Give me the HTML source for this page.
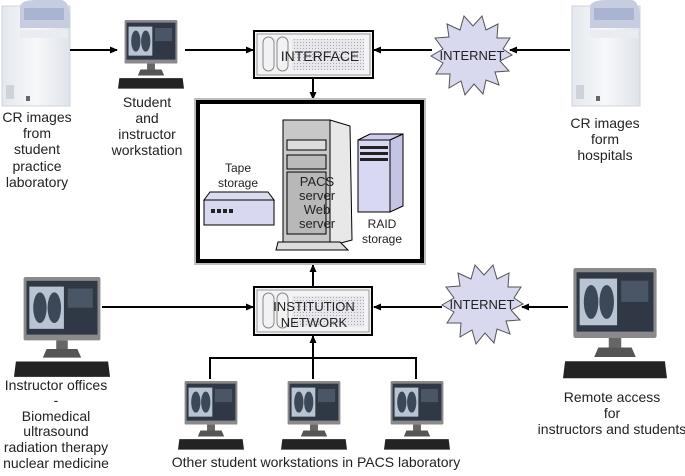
<!DOCTYPE html>
<html><head><meta charset="utf-8"><style>
html,body{margin:0;padding:0;background:#fff;}
svg{display:block;font-family:"Liberation Sans",Arial,sans-serif;}
</style></head><body>
<svg width="685" height="476" viewBox="0 0 685 476" xmlns="http://www.w3.org/2000/svg">
<defs>
<marker id="ah" markerWidth="8" markerHeight="8" refX="7" refY="4" orient="auto" markerUnits="userSpaceOnUse">
<path d="M0,0.5 L8,4 L0,7.5 Z" fill="#000"/></marker>
<pattern id="grid" width="3" height="3" patternUnits="userSpaceOnUse">
<rect width="3" height="3" fill="#e8e8ec"/><rect width="1" height="1" fill="#a8a8b0"/></pattern>
<linearGradient id="crg" x1="0" x2="1"><stop offset="0" stop-color="#e4e8ee"/><stop offset="0.5" stop-color="#f7f8fa"/><stop offset="1" stop-color="#dfe3ea"/></linearGradient>
<g id="mon">
<rect x="10" y="0" width="80" height="66" rx="2" fill="#8a8a8c"/>
<rect x="13" y="4" width="74" height="56" fill="#2f3844"/>
<rect x="16" y="10" width="36" height="44" fill="#b8c4d2"/>
<ellipse cx="27" cy="32" rx="7" ry="16" fill="#3c4858"/>
<ellipse cx="42" cy="32" rx="7" ry="16" fill="#3c4858"/>
<rect x="56" y="12" width="26" height="20" fill="#4a5666"/>
<rect x="44" y="66" width="12" height="10" fill="#666"/>
<path d="M30,84 L34,75 L66,75 L70,84 Z" fill="#555"/>
<path d="M2,88 L98,88 L100,104 L0,104 Z" fill="#232323"/>
</g>
<g id="cr">
<rect x="0" y="6" width="68" height="100" fill="url(#crg)" stroke="#cfd4dc"/>
<path d="M18,6 Q20,0 34,0 L60,0 Q68,2 68,20 L68,28 L18,28 Z" fill="#c6cde0"/>
<rect x="22" y="8" width="40" height="12" fill="#a9b3d2"/>
<rect x="18" y="30" width="48" height="8" fill="#e9ecf0"/>
<rect x="4" y="85" width="8" height="14" fill="#cfd3d9"/>
<rect x="24" y="96" width="4" height="5" fill="#666"/>
</g>
</defs>

<!-- CR machines -->
<use href="#cr" x="2" y="0"/>
<use href="#cr" x="572" y="0"/>

<!-- monitors -->
<g transform="translate(118,20) scale(0.66,0.66)"><use href="#mon"/></g>
<g transform="translate(14,277) scale(0.96,0.96)"><use href="#mon"/></g>
<g transform="translate(563,268) scale(1.04,1.06)"><use href="#mon"/></g>
<g transform="translate(178,381) scale(0.66,0.66)"><use href="#mon"/></g>
<g transform="translate(281,381) scale(0.66,0.66)"><use href="#mon"/></g>
<g transform="translate(384,381) scale(0.66,0.66)"><use href="#mon"/></g>

<!-- connectors top -->
<g stroke="#000" stroke-width="2" fill="none">
<line x1="70" y1="50" x2="117" y2="50" marker-end="url(#ah)"/>
<line x1="185" y1="50" x2="253" y2="50" marker-end="url(#ah)"/>
<line x1="570" y1="50" x2="510" y2="50" marker-end="url(#ah)"/>
<line x1="432" y1="50" x2="374" y2="50" marker-end="url(#ah)"/>
<line x1="313" y1="78" x2="313" y2="99" marker-end="url(#ah)"/>
<line x1="313" y1="287" x2="313" y2="265" marker-end="url(#ah)"/>
<line x1="102" y1="307" x2="253" y2="307" marker-end="url(#ah)"/>
<line x1="568" y1="307" x2="522" y2="307" marker-end="url(#ah)"/>
<line x1="442" y1="307" x2="374" y2="307" marker-end="url(#ah)"/>
<line x1="313" y1="379" x2="313" y2="336" marker-end="url(#ah)"/>
<polyline points="210,379 210,358 416,358 416,379"/>
</g>

<!-- Interface box -->
<rect x="254" y="31" width="119" height="47" fill="#f4f2f4" stroke="#000" stroke-width="2"/>
<rect x="257" y="34" width="113" height="41" fill="none" stroke="#999" stroke-width="1"/>
<rect x="263" y="37" width="11" height="34" rx="5.5" fill="#f2f2f4" stroke="#888"/>
<rect x="277" y="37" width="11" height="34" rx="5.5" fill="#f2f2f4" stroke="#888"/>
<rect x="292" y="39" width="72" height="31" fill="url(#grid)"/>
<text x="320" y="61" font-size="14" text-anchor="middle" fill="#222">INTERFACE</text>

<!-- Network box -->
<rect x="254" y="287" width="118" height="48" fill="#f4f2f4" stroke="#000" stroke-width="2"/>
<rect x="257" y="290" width="112" height="42" fill="none" stroke="#999" stroke-width="1"/>
<rect x="263" y="293" width="11" height="35" rx="5.5" fill="#f2f2f4" stroke="#888"/>
<rect x="277" y="293" width="11" height="35" rx="5.5" fill="#f2f2f4" stroke="#888"/>
<rect x="292" y="296" width="72" height="31" fill="url(#grid)"/>
<text x="314" y="311" font-size="13" text-anchor="middle" fill="#222">INSTITUTION</text>
<text x="314" y="327" font-size="13" text-anchor="middle" fill="#222">NETWORK</text>

<!-- starbursts -->
<polygon id="s1" fill="#d8d8ee" stroke="#555" stroke-width="1"
points="512,55 500,61 509,71 495,72 499,85 486,80 483,94 474,84 465,95 461,81 449,88 450,74 436,74 443,63 431,56 443,49 435,38 449,37 447,24 460,30 464,16 473,26 482,16 486,30 498,24 497,38 510,38 503,49"/>
<text x="472" y="60" font-size="13" text-anchor="middle" fill="#222">INTERNET</text>
<polygon fill="#d8d8ee" stroke="#555" stroke-width="1"
transform="translate(11,249)"
points="512,55 500,61 509,71 495,72 499,85 486,80 483,94 474,84 465,95 461,81 449,88 450,74 436,74 443,63 431,56 443,49 435,38 449,37 447,24 460,30 464,16 473,26 482,16 486,30 498,24 497,38 510,38 503,49"/>
<text x="482" y="309" font-size="13" text-anchor="middle" fill="#222">INTERNET</text>

<!-- big box -->
<rect x="194" y="98" width="232" height="167" fill="#bdbdbd"/>
<rect x="198" y="102" width="224" height="159" fill="#fff" stroke="#000" stroke-width="4"/>
<!-- tape -->
<path d="M204,200 L210,192 L268,192 L274,200 Z" fill="#dcdcf0" stroke="#000"/>
<rect x="204" y="200" width="70" height="25" fill="#d8d8f0" stroke="#000"/>
<g fill="#222"><rect x="211" y="209" width="4" height="4"/><rect x="217" y="209" width="4" height="4"/><rect x="223" y="209" width="4" height="4"/><rect x="229" y="209" width="4" height="4"/></g>
<text x="238" y="172" font-size="12" text-anchor="middle" fill="#222">Tape</text>
<text x="238" y="187" font-size="12" text-anchor="middle" fill="#222">storage</text>
<!-- server -->
<path d="M283,122 L330,120 L350,126 L352,240 L330,246 Z" fill="#e8e8e8" stroke="#000"/>
<rect x="283" y="120" width="47" height="122" fill="#c8c8c8" stroke="#000"/>
<rect x="287" y="140" width="39" height="10" fill="#ddd" stroke="#000"/>
<rect x="287" y="155" width="39" height="14" fill="#bbb" stroke="#000"/>
<rect x="287" y="172" width="39" height="62" fill="#b8b8b8" stroke="#000"/>
<path d="M278,242 L340,242 L348,250 L276,250 Z" fill="#ddd" stroke="#000"/>
<text x="317" y="186" font-size="13" text-anchor="middle" fill="#222">PACS</text>
<text x="317" y="200" font-size="13" text-anchor="middle" fill="#222">server</text>
<text x="317" y="214" font-size="13" text-anchor="middle" fill="#222">Web</text>
<text x="317" y="228" font-size="13" text-anchor="middle" fill="#222">server</text>
<!-- RAID -->
<path d="M358,140 L370,134 L403,134 L390,140 Z" fill="#ccccec" stroke="#000"/>
<path d="M390,140 L403,134 L403,206 L390,212 Z" fill="#c4c4e4" stroke="#000"/>
<rect x="358" y="140" width="32" height="72" fill="#d8d8f2" stroke="#000"/>
<g fill="#222"><rect x="360" y="146" width="28" height="3"/><rect x="360" y="152" width="28" height="3"/><rect x="360" y="158" width="28" height="3"/></g>
<text x="382" y="228" font-size="12" text-anchor="middle" fill="#222">RAID</text>
<text x="382" y="243" font-size="12" text-anchor="middle" fill="#222">storage</text>

<!-- labels -->
<g font-size="14" fill="#222" text-anchor="middle">
<text x="37" y="122">CR images</text>
<text x="37" y="138">from</text>
<text x="37" y="154">student</text>
<text x="37" y="171">practice</text>
<text x="37" y="187">laboratory</text>
<text x="147" y="107">Student</text>
<text x="147" y="123">and</text>
<text x="147" y="139">instructor</text>
<text x="147" y="155">workstation</text>
<text x="605" y="128">CR images</text>
<text x="605" y="144">form</text>
<text x="605" y="160">hospitals</text>
<text x="612" y="402">Remote access</text>
<text x="612" y="418">for</text>
<text x="612" y="434">instructors and students</text>
<text x="56" y="390">Instructor offices</text>
<text x="56" y="405">-</text>
<text x="56" y="421">Biomedical</text>
<text x="56" y="436">ultrasound</text>
<text x="56" y="452">radiation therapy</text>
<text x="56" y="468">nuclear medicine</text>
<text x="316" y="467">Other student workstations in PACS laboratory</text>
</g>
</svg>
</body></html>
